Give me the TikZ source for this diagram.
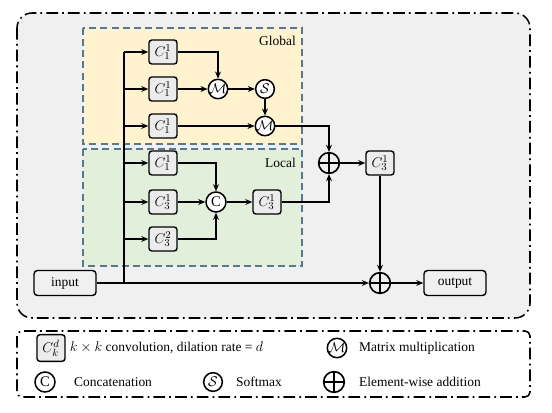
\documentclass[tikz,border=0pt]{standalone}
\usepackage{fontspec}
\setmainfont{Liberation Serif}
\usepackage{tikz}
\usetikzlibrary{calc}
\usetikzlibrary{arrows.meta}
\usetikzlibrary{positioning}
\definecolor{bggray}{RGB}{240,240,240}
\definecolor{globfill}{RGB}{255,242,206}
\definecolor{locfill}{RGB}{226,239,218}
\definecolor{dashblue}{RGB}{84,120,150}
\definecolor{boxgray}{RGB}{236,236,236}
\tikzset{conv/.style={rectangle,rounded corners=2.5pt,draw=black,fill=boxgray,line width=1.2pt,minimum width=0.84cm,minimum height=0.72cm,inner sep=1pt,font=\fontsize{13}{15}\selectfont}}
\tikzset{op/.style={circle,draw=black,fill=white,line width=1.3pt,minimum size=0.56cm,inner sep=0pt,font=\fontsize{12.5}{15}\selectfont}}
\tikzset{addop/.style={circle,draw=black,line width=1.4pt,minimum size=0.62cm,inner sep=0pt,
  path picture={\draw[line width=1.4pt] (path picture bounding box.north) -- (path picture bounding box.south)
  (path picture bounding box.west) -- (path picture bounding box.east);}}}
\tikzset{io/.style={rectangle,rounded corners=3pt,draw=black,fill=bggray,line width=1.2pt,minimum width=1.86cm,minimum height=0.75cm}}
\tikzset{arr/.style={-{Stealth[length=6pt,width=5pt]},line width=1.2pt}}
\tikzset{area/.style={draw=dashblue,line width=1.3pt,dash pattern=on 6pt off 3.5pt}}
\tikzset{frame/.style={draw=black,line width=1.3pt,dash pattern=on 10pt off 3.5pt on 1.5pt off 3.5pt}}

\begin{document}
\begin{tikzpicture}[x=0.03cm,y=-0.03cm,font=\fontsize{11.5}{14}\selectfont]
\useasboundingbox (0,0) rectangle (552,412);
% frames
\draw[frame,fill=bggray,rounded corners=0.45cm] (17,13) rectangle (530,318);
\draw[frame,rounded corners=0.15cm] (17,331) rectangle (530,397);
\draw[area,fill=globfill] (83,28) rectangle (302,144);
\draw[area,fill=locfill] (83,149) rectangle (302,266);
\node[anchor=east] (glab) at (300,41) {Global};
\node[anchor=east] (llab) at (300,163) {Local};

% global branch
\foreach \i/\y in {1/52,2/89,3/126} {
	\node[conv] (G\i) at (163,\y) {$C_1^1$};
	}
\node[op] (M1) at (218,89) {$\mathcal{M}$};
\node[op] (S) at (265,89) {$\mathcal{S}$};
\node[op] (M2) at (265,126) {$\mathcal{M}$};

% local branch
\node[conv] (L1) at (163,163) {$C_1^1$};
\node[conv] (L2) at (163,202) {$C_3^1$};
\node[conv] (L3) at (163,239) {$C_3^2$};
\node[op,minimum size=0.6cm] (cat) at (216,202) {C};
\node[conv] (L4) at (267,202) {$C_3^1$};

% fusion
\node[io] (in) at (65,283) {input};
\node[io] (out) at (455,283) {output};
\coordinate (trunk) at (124,283);
\node[addop] (P1) at (329,163) {};
\node[conv] (F) at (380,163) {$C_3^1$};
\node[addop] (P2) at (380,283) {};

\draw[line width=1.6pt] (trunk) -- (G1.west -| trunk);
\foreach \n in {G1,G2,G3,L1,L2,L3} {
	\draw[arr] (\n.west -| trunk) -- (\n.west);
}
\draw[arr] (G1.east) -| (M1.north);
\draw[arr] (G2) -- (M1);
\draw[arr] (M1) -- (S);
\draw[arr] (S) -- (M2);
\draw[arr] (G3) -- (M2);
\draw[arr] (M2.east) -| (P1.north);
\draw[arr] (L1.east) -| (cat.north);
\draw[arr] (L2) -- (cat);
\draw[arr] (L3.east) -| (cat.south);
\draw[arr] (cat) -- (L4);
\draw[arr] (L4.east) -| (P1.south);
\draw[arr] (P1) -- (F);
\draw[arr] (F) -- (P2);
\draw[line width=1.6pt] (in) -- (trunk);
\draw[arr] (trunk) -- (P2);
\draw[arr] (P2) -- (out);

% legend
\node[conv,minimum height=0.8cm] (kconv) at (51,348) {$C_k^d$};
\node[anchor=west] (ktxt) at (kconv.east) {$k\times k$ convolution, dilation rate = $d$};
\node[op] (kmul) at (337,348) {$\mathcal{M}$};
\node[anchor=west] (mtxt) at (355,348) {Matrix multiplication};
\node[op,minimum size=0.6cm] (kcat) at (45,382) {C};
\node[anchor=west] (ctxt) at (70,382) {Concatenation};
\node[op] (ksoft) at (213,382) {$\mathcal{S}$};
\node[anchor=west] (stxt) at (232,382) {Softmax};
\node[addop] (kadd) at (334,382) {};
\node[anchor=west] (atxt) at (355,382) {Element-wise addition};
\end{tikzpicture}
\end{document}
